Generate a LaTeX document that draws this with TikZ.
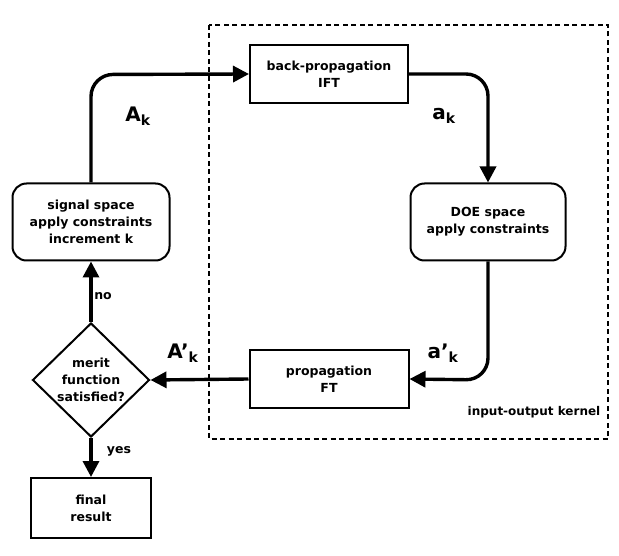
\documentclass[tikz,border=0pt]{standalone}
\usepackage{fontspec}
\setmainfont{DejaVu Sans}
\usetikzlibrary{shapes.geometric,arrows.meta}
\begin{document}
\begin{tikzpicture}[x=1pt,y=-1pt,
  box/.style={draw,line width=2pt,align=center,font=\fontsize{12.5}{17}\selectfont\bfseries,inner sep=0pt},
  rbox/.style={box,rounded corners=14pt},
  conn/.style={line width=3.4pt,-{Triangle[length=16pt,width=16pt]},rounded corners=22pt},
  lab/.style={font=\fontsize{12.5}{14}\selectfont\bfseries},
  big/.style={font=\fontsize{20}{22}\selectfont\bfseries}]
\useasboundingbox (0,0) rectangle (619,556);
\draw[line width=1.6pt,dash pattern=on 5pt off 3.5pt] (209,25) rectangle (608,439);
\node[box,minimum width=158pt,minimum height=58pt] (bp) at (329,74) {back-propagation\\IFT};
\node[rbox,minimum width=155pt,minimum height=77pt] (doe) at (488,222) {DOE space\\apply constraints};
\node[box,minimum width=159pt,minimum height=58pt] (pr) at (329,379) {propagation\\FT};
\node[rbox,minimum width=157pt,minimum height=77pt] (sig) at (91,222) {signal space\\apply constraints\\increment k};
\node[draw,diamond,line width=2pt,aspect=1.03,inner sep=0pt,minimum width=117pt,minimum height=114pt,align=center,font=\fontsize{12.5}{17}\selectfont\bfseries] (mf) at (91,380) {merit\\function\\satisfied?};
\node[box,minimum width=120pt,minimum height=60pt] (fr) at (91,508) {final\\result};
\draw[conn] (sig.north) -- (91,74.5) -- (bp.west);
\draw[conn] (bp.east) -- (488,74) -- (doe.north);
\draw[conn] (doe.south) -- (488,380) -- (pr.east);
\draw[conn] (pr.west) -- (mf.east);
\draw[conn] (mf.north) -- (sig.south);
\draw[conn] (mf.south) -- (fr.north);
\node[big] (l1) at (138,116) {A\textsubscript{k}};
\node[big] (l2) at (444,116) {a\textsubscript{k}};
\node[big] (l3) at (443,353) {a'\textsubscript{k}};
\node[big] (l4) at (183,353) {A'\textsubscript{k}};
\node[lab] (l5) at (103,296) {no};
\node[lab] (l6) at (119,451) {yes};
\node[font=\fontsize{12}{14}\selectfont\bfseries] (l7) at (534,412) {input-output kernel};
\end{tikzpicture}
\end{document}
